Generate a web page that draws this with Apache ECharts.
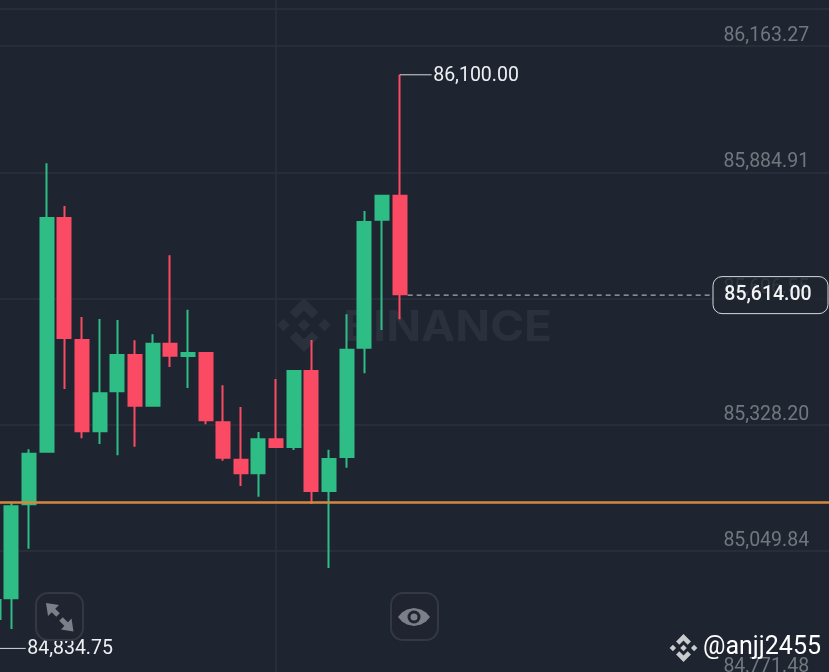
<!DOCTYPE html>
<html>
<head>
<meta charset="utf-8">
<title>BTC candles</title>
<style>
  html, body { margin: 0; padding: 0; background: #1f2530; }
  #main { width: 829px; height: 672px; }
</style>
<script src="https://cdn.jsdelivr.net/npm/echarts@6/dist/echarts.min.js"></script>
</head>
<body>
<div id="main"></div>
<script>
// candles, left to right. the chart has empty room on the right for future bars
var opens  = [84899.6, 84945.3, 85152.6, 85268.6, 85784.1, 85515.0, 85313.6, 85401.9, 85481.9, 85370.1, 85506.9, 85479.7, 85486.3, 85333.5, 85251.0, 85221.0, 85296.0, 85279.0, 85446.6, 85181.9, 85257.0, 85498.0, 85780.4, 85833.3];
var closes = [84941.5, 85148.2, 85264.2, 85784.1, 85519.4, 85313.6, 85397.4, 85481.9, 85370.1, 85506.9, 85480.4, 85486.3, 85337.9, 85255.4, 85221.0, 85296.0, 85279.0, 85446.6, 85181.9, 85252.5, 85493.6, 85775.3, 85833.3, 85616.0];
var lows   = [84834.75, 84877.6, 85054.7, 85266.4, 85406.9, 85298.2, 85285.6, 85260.7, 85279.7, 85367.9, 85455.5, 85409.1, 85329.1, 85248.8, 85193.0, 85169.4, 85276.8, 85272.4, 85153.3, 85012.1, 85233.3, 85441.6, 85537.1, 85560.7];
var highs  = [84948.2, 85155.5, 85273.9, 85904.8, 85810.6, 85565.7, 85561.3, 85559.1, 85514.3, 85527.6, 85701.8, 85581.8, 85488.5, 85415.1, 85367.2, 85312.1, 85429.0, 85448.8, 85515.0, 85273.0, 85571.7, 85799.6, 85835.5, 86100.0];

var tickLabels = [86163.27, 85884.91, 85606.55, 85328.20, 85049.84, 84771.48];
var gridPrices = [86245.1, 86163.27, 85884.91, 85606.55, 85328.20, 85049.84, 84771.48];
var orangeLevel = 85157.7;
var lastPrice = 85614.00;
var peakMarks = [[23, 86100.00], [0, 84834.75]];

var categories = [];
for (var c = 0; c < 48; c++) categories.push('c' + c);

var candleData = opens.map(function (o, i) {
    return [o, closes[i], lows[i], highs[i]];
});

var money = function (v) {
    return v.toLocaleString('en-US', { minimumFractionDigits: 2, maximumFractionDigits: 2 });
};

var bg = '#1f2530';
var up = '#2ebd85';
var down = '#fb4a63';
var textFont = 'Roboto, sans-serif';

// binance logo, built from a unit shape
function logo(cx, cy, r, fill) {
    var shapes = [
        [[0, -0.23], [0.23, 0], [0, 0.23], [-0.23, 0]],
        [[-0.76, -0.23], [-0.53, 0], [-0.76, 0.23], [-0.99, 0]],
        [[0.76, -0.23], [0.99, 0], [0.76, 0.23], [0.53, 0]],
        [[0, -1], [0.53, -0.47], [0.3, -0.24], [0, -0.53], [-0.3, -0.24], [-0.53, -0.47]],
        [[0, 1], [0.53, 0.47], [0.3, 0.24], [0, 0.53], [-0.3, 0.24], [-0.53, 0.47]]
    ];
    return shapes.map(function (s) {
        return {
            type: 'polygon',
            shape: { points: s.map(function (p) { return [cx + p[0] * r, cy + p[1] * r]; }) },
            style: { fill: fill }
        };
    });
}

function button(x, y) {
    return {
        type: 'rect',
        shape: { x: x, y: y, width: 47, height: 47, r: 12 },
        style: { fill: 'rgba(31,37,48,0.6)', stroke: '#333843', lineWidth: 2 },
        z: 20
    };
}

var iconGrey = '#7b7f87';
var decorations = []
    .concat(logo(304, 325, 27, '#2b313c'))
    .concat(logo(683.5, 648, 14, '#c9cbcf').map(function (e) { e.z = 30; return e; }))
    .concat([
        {
            type: 'text',
            x: 343,
            y: 325,
            scaleX: 1.065,
            style: { x: 0, y: 3, text: 'BINANCE', fill: '#2b313c', font: 'bold 43px Inter, sans-serif', textAlign: 'left', textVerticalAlign: 'middle' }
        },
        button(36, 593),
        button(391, 593),
        // expand icon
        { type: 'polygon', z: 21, shape: { points: [[46, 603], [59, 605], [48, 616]] }, style: { fill: iconGrey } },
        { type: 'polygon', z: 21, shape: { points: [[73.5, 631.5], [61, 629.5], [71.5, 618.5]] }, style: { fill: iconGrey } },
        { type: 'line', z: 21, shape: { x1: 50, y1: 607, x2: 58, y2: 615 }, style: { stroke: iconGrey, lineWidth: 5 } },
        { type: 'line', z: 21, shape: { x1: 61, y1: 619, x2: 69, y2: 627 }, style: { stroke: iconGrey, lineWidth: 5 } },
        // eye icon
        {
            type: 'polygon', z: 21,
            shape: { points: [[398, 617], [402, 612.5], [407, 609.5], [414, 608], [421, 609.5], [426, 612.5], [430, 617], [426, 621.5], [421, 624.5], [414, 626], [407, 624.5], [402, 621.5]] },
            style: { fill: iconGrey }
        },
        { type: 'circle', z: 21, shape: { cx: 414, cy: 617, r: 6.5 }, style: { fill: bg } },
        { type: 'circle', z: 21, shape: { cx: 414, cy: 617, r: 3.5 }, style: { fill: iconGrey } },
        {
            type: 'text', z: 30,
            style: { x: 821, y: 648, text: '@anjj2455', fill: '#ffffff', font: '25px Roboto, sans-serif', textAlign: 'right', textVerticalAlign: 'middle' }
        }
    ]);

var myChart = echarts.init(document.getElementById('main'), null, { renderer: 'canvas' });

var option = {
    animation: false,
    backgroundColor: bg,
    graphic: { elements: decorations },
    grid: { left: -15.1, top: 0, width: 847.2, height: 700, containLabel: false, outerBoundsMode: 'none' },
    xAxis: {
        type: 'category',
        data: categories,
        boundaryGap: true,
        axisLine: { show: false },
        axisTick: { show: false },
        axisLabel: { show: false },
        splitLine: {
            show: true,
            alignWithLabel: true,
            interval: function (index) { return index === 16; },
            lineStyle: { color: '#2c313c', width: 1.5 }
        }
    },
    yAxis: {
        type: 'value',
        position: 'right',
        min: 84720.95,
        max: 86264.95,
        axisLine: { show: false },
        axisTick: { show: false, customValues: gridPrices },
        axisLabel: {
            inside: true,
            customValues: tickLabels,
            margin: 23,
            color: '#72777f',
            fontFamily: textFont,
            fontSize: 19.5,
            verticalAlign: 'bottom',
            hideOverlap: false,
            showMinLabel: true,
            showMaxLabel: true,
            formatter: function (v) { return money(v); }
        },
        splitLine: { show: true, lineStyle: { color: '#2c313c', width: 1.5 } }
    },
    series: [
        {
            type: 'candlestick',
            data: candleData,
            barWidth: 13.5,
            z: 3,
            itemStyle: {
                color: up,
                color0: down,
                borderColor: up,
                borderColor0: down,
                borderWidth: 2
            },
            markLine: {
                silent: true,
                symbol: 'none',
                z: 6,
                label: { show: false },
                data: [{ yAxis: orangeLevel }],
                lineStyle: { color: '#d4883f', width: 2.5, type: 'solid' }
            }
        },
        {
            // high / low leader labels
            type: 'custom',
            data: peakMarks,
            encode: { x: 0, y: 1 },
            z: 8,
            renderItem: function (params, api) {
                var pt = api.coord([api.value(0), api.value(1)]);
                return {
                    type: 'group',
                    children: [
                        {
                            type: 'line',
                            shape: { x1: pt[0], y1: pt[1], x2: pt[0] + 32, y2: pt[1] },
                            style: { stroke: '#d5d8dc', lineWidth: 1 }
                        },
                        {
                            type: 'text',
                            style: {
                                x: pt[0] + 33.5, y: pt[1] + 1,
                                text: money(api.value(1)),
                                fill: '#eef0f3',
                                font: '19.5px Roboto, sans-serif',
                                textAlign: 'left',
                                textVerticalAlign: 'middle'
                            }
                        }
                    ]
                };
            }
        },
        {
            // last price line and tag
            type: 'custom',
            data: [[23, lastPrice]],
            encode: { x: 0, y: 1 },
            z: 9,
            renderItem: function (params, api) {
                var pt = api.coord([api.value(0), api.value(1)]);
                return {
                    type: 'group',
                    children: [
                        {
                            type: 'line',
                            shape: { x1: pt[0] + 8, y1: pt[1], x2: 713, y2: pt[1] },
                            style: { stroke: '#c8ccd2', lineWidth: 1, lineDash: [5, 4] }
                        },
                        {
                            type: 'rect',
                            shape: { x: 713, y: pt[1] - 18.5, width: 115, height: 37, r: 9 },
                            style: { fill: 'rgba(31,37,48,0.8)', stroke: '#d5d8dc', lineWidth: 1 }
                        },
                        {
                            type: 'text',
                            style: {
                                x: 768, y: pt[1],
                                text: money(api.value(1)),
                                fill: '#f2f3f5',
                                font: '500 19.5px Roboto, sans-serif',
                                textAlign: 'center',
                                textVerticalAlign: 'middle'
                            }
                        }
                    ]
                };
            }
        }
    ]
};
myChart.setOption(option);
</script>
</body>
</html>
